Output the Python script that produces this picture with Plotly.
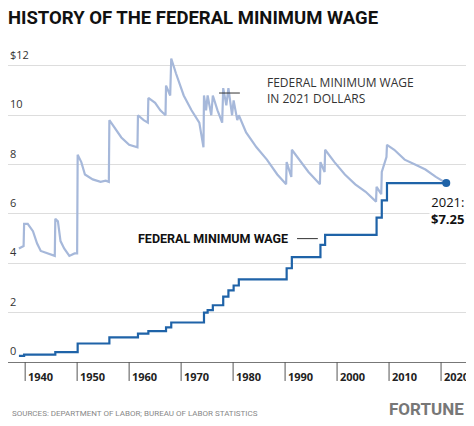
import plotly.graph_objects as go

# nominal federal minimum wage (effective dates)
nominal_years = [1938.8, 1939.8, 1945.8, 1950.1, 1956.2, 1961.7, 1963.7, 1967.1, 1968.1,
                 1974.4, 1975.1, 1976.1, 1978.1, 1979.1, 1980.1, 1981.1, 1990.3, 1991.3,
                 1996.8, 1997.7, 2007.6, 2008.6, 2009.6, 2021.0]
nominal_wage = [0.25, 0.30, 0.40, 0.75, 1.00, 1.15, 1.25, 1.40, 1.60,
                2.00, 2.10, 2.30, 2.65, 2.90, 3.10, 3.35, 3.80, 4.25,
                4.75, 5.15, 5.85, 6.55, 7.25, 7.25]

# minimum wage in 2021 dollars
real_years = [1938.8, 1939.7, 1939.8, 1940.5, 1941.5, 1942.3, 1943.0, 1944.5, 1945.7,
              1945.8, 1946.3, 1946.8, 1947.5, 1948.5, 1949.5, 1950.0, 1950.1, 1950.8,
              1951.5, 1953.0, 1954.5, 1955.5, 1956.1, 1956.2, 1957.2, 1958.5, 1960.0,
              1961.6, 1961.7, 1962.8, 1963.6, 1963.7, 1965.0, 1966.0, 1967.0, 1967.1,
              1967.9, 1968.1, 1969.0, 1970.5, 1972.0, 1973.5, 1974.3, 1974.4, 1974.8,
              1975.1, 1975.8, 1976.1, 1977.0, 1977.9, 1978.1, 1978.7, 1979.1, 1979.8,
              1980.1, 1980.8, 1981.1, 1982.5, 1984.5, 1986.5, 1988.5, 1990.2, 1990.3,
              1991.2, 1991.3, 1993.0, 1994.5, 1996.7, 1996.8, 1997.6, 1997.7, 1999.5,
              2001.5, 2003.5, 2005.5, 2007.5, 2007.6, 2008.5, 2008.6, 2009.5, 2009.6,
              2011.0, 2013.0, 2015.0, 2017.0, 2019.0, 2021.0]
real_wage = [4.6, 4.7, 5.6, 5.6, 5.3, 4.8, 4.5, 4.4, 4.3,
             5.8, 5.7, 4.9, 4.6, 4.3, 4.4, 4.4, 8.4, 8.1,
             7.6, 7.4, 7.3, 7.35, 7.3, 9.8, 9.5, 9.1, 8.8,
             8.7, 10.0, 9.8, 9.7, 10.7, 10.5, 10.2, 10.0, 11.2,
             10.8, 12.3, 11.7, 10.8, 10.2, 9.7, 8.7, 10.8, 10.2,
             10.8, 10.0, 10.8, 10.2, 9.7, 11.1, 10.4, 11.1, 10.0,
             10.6, 9.8, 10.0, 9.3, 8.7, 8.2, 7.6, 7.2, 8.1,
             7.5, 8.6, 8.1, 7.7, 7.2, 8.1, 7.7, 8.6, 8.1,
             7.6, 7.2, 6.9, 6.5, 7.1, 6.8, 7.7, 8.3, 8.8,
             8.6, 8.2, 8.0, 7.8, 7.5, 7.25]

y_ticks = [0, 2, 4, 6, 8, 10, 12]
y_labels = ["0", "2", "4", "6", "8", "10", "$12"]
x_ticks = [1940, 1950, 1960, 1970, 1980, 1990, 2000, 2010, 2020]

NARROW = "Liberation Sans Narrow, Roboto"

fig = go.Figure()
fig.add_trace(go.Scatter(x=real_years, y=real_wage, mode="lines",
                         line=dict(color="#a6b8da", width=2.2), hoverinfo="skip"))
fig.add_trace(go.Scatter(x=nominal_years, y=nominal_wage, mode="lines",
                         line=dict(color="#1f63a8", width=2.2, shape="hv"), hoverinfo="skip"))
fig.add_trace(go.Scatter(x=[2021.0], y=[7.25], mode="markers",
                         marker=dict(color="#1f63a8", size=8), hoverinfo="skip", cliponaxis=False))

for v, lab in zip(y_ticks, y_labels):
    fig.add_annotation(x=0, xref="paper", y=v, yref="y", text=lab, showarrow=False,
                       xanchor="left", yanchor="bottom", yshift=2,
                       font=dict(size=11, color="#333"))
for yr in x_ticks:
    fig.add_shape(type="line", x0=yr, x1=yr, xref="x", y0=0, y1=-0.062, yref="paper",
                  line=dict(color="#555", width=1))
    fig.add_annotation(x=yr, y=-0.047, yref="paper", text=f"<b>{yr}</b>", showarrow=False,
                       xanchor="left", yanchor="middle", xshift=1, font=dict(size=11, color="#222"))

# labels
fig.add_annotation(x=1976.2, y=5.0, text="<b>FEDERAL MINIMUM WAGE</b>", showarrow=False,
                   xanchor="center", font=dict(size=12.5, color="#111", family="Roboto"))
fig.add_shape(type="line", x0=1992.3, x1=1996.3, y0=5.0, y1=5.0, line=dict(color="#333", width=1))
fig.add_shape(type="line", x0=1977.3, x1=1981.3, y0=10.9, y1=10.9, line=dict(color="#333", width=1))
fig.add_annotation(x=1986.2, y=11.0, text="FEDERAL MINIMUM WAGE<br>IN 2021 DOLLARS", showarrow=False,
                   xanchor="left", align="left", font=dict(size=12, color="#333"))
fig.add_annotation(x=2024.8, y=6.15, text="2021:<br><b>$7.25</b>", showarrow=False,
                   xanchor="right", align="right", bgcolor="white",
                   font=dict(size=13, color="#111"))

# footer
fig.add_annotation(x=0.005, xref="paper", y=-0.167, yref="paper", xanchor="left", yanchor="middle",
                   text="SOURCES: DEPARTMENT OF LABOR; BUREAU OF LABOR STATISTICS", showarrow=False,
                   font=dict(size=8, color="#888", family=NARROW))
fig.add_annotation(x=1, xref="paper", y=-0.154, yref="paper", xanchor="right", yanchor="middle",
                   text="<b>FORTUNE</b>", showarrow=False,
                   font=dict(size=17, color="#777", family=NARROW))

fig.update_layout(
    width=458, height=410,
    margin=dict(l=0, r=0, t=48, b=56),
    plot_bgcolor="white", paper_bgcolor="white",
    showlegend=False,
    title=dict(text="<b>HISTORY OF THE FEDERAL MINIMUM WAGE</b>", x=0, xanchor="left",
               y=0.976, yanchor="middle",
               font=dict(size=18.5, color="#111", family=NARROW)),
    xaxis=dict(range=[1936.7, 2024.8], showgrid=False, showticklabels=False, zeroline=False,
               showline=False, fixedrange=True),
    yaxis=dict(range=[0, 12.4], tickvals=y_ticks, showticklabels=False, gridcolor="#dddddd",
               zeroline=True, zerolinecolor="#777", zerolinewidth=1, fixedrange=True),
)
fig.write_html("out.html")
